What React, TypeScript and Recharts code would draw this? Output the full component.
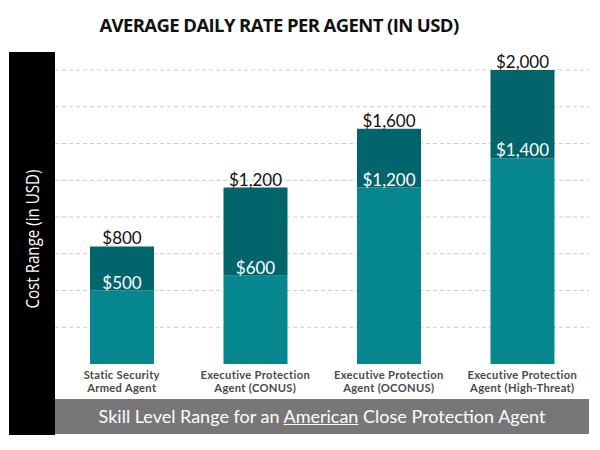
import { Bar, BarChart, CartesianGrid, LabelList, XAxis, YAxis } from "recharts";

const categories = [
  "Static Security\nArmed Agent",
  "Executive Protection\nAgent (CONUS)",
  "Executive Protection\nAgent (OCONUS)",
  "Executive Protection\nAgent (High-Threat)",
];
const lowRates = [500, 600, 1200, 1400];
const highRates = [800, 1200, 1600, 2000];
// gridlines only; the reference has no line at 0
const yTicks = [250, 500, 750, 1000, 1250, 1500, 1750, 2000];

const chartData = categories.map((name, i) => ({
  name,
  low: lowRates[i],
  spread: highRates[i] - lowRates[i],
  high: highRates[i],
}));

const money = (v: any) => "$" + Number(v).toLocaleString("en-US");

function CategoryTick({ x, y, payload }: any) {
  const lines = String(payload.value).split("\n");
  return (
    <text
      x={x}
      y={y}
      textAnchor="middle"
      fill="#4a4a4a"
      fontFamily="Lato"
      fontWeight={700}
      fontSize={11.2}
      letterSpacing={0.3}
    >
      {lines.map((line, i) => (
        <tspan key={i} x={x} dy={i === 0 ? 6.5 : 13.5}>
          {line}
        </tspan>
      ))}
    </text>
  );
}

export default function App() {
  return (
    <div style={{ position: "absolute", left: 0, top: 0, width: 600, height: 450, background: "#fff" }}>
      <div
        style={{
          position: "absolute",
          left: 59,
          top: 12,
          width: 440,
          textAlign: "center",
          fontFamily: "Open Sans",
          fontWeight: 700,
          fontSize: 18.5,
          letterSpacing: -0.6,
          color: "#111",
        }}
      >
        AVERAGE DAILY RATE PER AGENT (IN USD)
      </div>
      <div style={{ position: "absolute", left: 9, top: 52, width: 46, height: 383, background: "#000" }} />
      <div
        style={{
          position: "absolute",
          left: 32,
          top: 239,
          transform: "translate(-50%, -50%) rotate(-90deg) scaleX(0.84)",
          whiteSpace: "nowrap",
          color: "#fff",
          fontFamily: "Open Sans",
          fontSize: 18,
        }}
      >
        Cost Range (in USD)
      </div>
      <div
        style={{
          position: "absolute",
          left: 55,
          top: 399,
          width: 534,
          height: 35,
          background: "#777",
          color: "#fff",
          fontFamily: "Lato",
          fontSize: 18,
          lineHeight: "35px",
          textAlign: "center",
        }}
      >
        Skill Level Range for an <span style={{ textDecoration: "underline" }}>American</span> Close
        Protection Agent
      </div>
      <div style={{ position: "absolute", left: 0, top: 0 }}>
        <BarChart
          width={600}
          height={450}
          data={chartData}
          margin={{ top: 70, right: 11, bottom: 51, left: 55 }}
        >
          <CartesianGrid
            horizontal
            vertical={false}
            horizontalValues={yTicks}
            syncWithTicks={false}
            stroke="#ccc"
            strokeDasharray="4 3"
          />
          <XAxis
            dataKey="name"
            axisLine={false}
            tickLine={false}
            interval={0}
            height={35}
            tick={<CategoryTick />}
          />
          <YAxis hide width={0} domain={[0, 2000]} ticks={yTicks} />
          <Bar dataKey="low" stackId="a" fill="#06878f" barSize={64} isAnimationActive={false}>
            <LabelList
              dataKey="low"
              position="top"
              offset={2}
              formatter={money}
              fill="#fff"
              fontFamily="Lato"
              fontSize={17}
            />
          </Bar>
          <Bar dataKey="spread" stackId="a" fill="#02656b" barSize={64} isAnimationActive={false}>
            <LabelList
              dataKey="high"
              position="top"
              offset={2}
              formatter={money}
              fill="#111"
              fontFamily="Lato"
              fontSize={17}
            />
          </Bar>
        </BarChart>
      </div>
    </div>
  );
}
